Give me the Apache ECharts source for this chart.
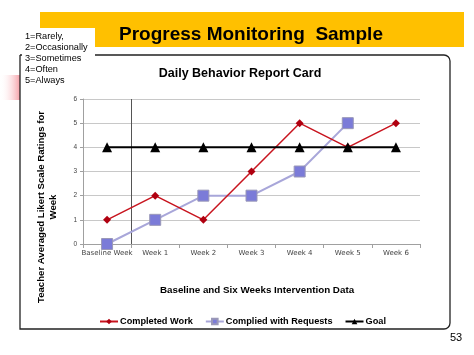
<!DOCTYPE html>
<html><head><meta charset="utf-8">
<script src="https://cdn.jsdelivr.net/npm/echarts@6/dist/echarts.min.js"></script>
<style>html,body{margin:0;padding:0;background:#fff}#c{width:474px;height:355px}</style>
</head><body><div id="c"></div>
<script>
const categories = ['Baseline Week','Week 1','Week 2','Week 3','Week 4','Week 5','Week 6'];
const completedWork = [1,2,1,3,5,4,5];
const compliedRequests = [0,1,2,2,3,5,null];
const goal = [4,4,4,4,4,4,4];
const yTicks = {min:0, max:6, interval:1};
const scaleKey = ['1=Rarely,','2=Occasionally','3=Sometimes','4=Often','5=Always'];
const phaseAfterIndex = 0;

const chart = echarts.init(document.getElementById('c'), null, {renderer:'canvas'});
const F = '"Liberation Sans", Arial, sans-serif';
const option = {
  animation:false,
  backgroundColor:'#fff',
  title:{text:'Daily Behavior Report Card', left:235, top:62, textAlign:'center', textStyle:{fontFamily:F, fontWeight:'bold', fontSize:12.5, color:'#000'}},
  grid:{left:83, right:54, top:99, bottom:111},
  xAxis:{
    type:'category', data:categories, boundaryGap:true,
    axisLine:{lineStyle:{color:'#A0A0A0'}},
    axisTick:{show:true, lineStyle:{color:'#A0A0A0'}, length:4},
    axisLabel:{fontSize:7, color:'#444', fontFamily:'"DejaVu Sans", sans-serif', margin:6, interval:0}
  },
  yAxis:{
    type:'value', min:yTicks.min, max:yTicks.max, interval:yTicks.interval,
    axisLine:{show:true, lineStyle:{color:'#A0A0A0'}},
    axisTick:{show:true, length:3, lineStyle:{color:'#A0A0A0'}},
    axisLabel:{fontSize:6.5, color:'#444', margin:6},
    splitLine:{lineStyle:{color:'#C8C8C8', width:1}}
  },
  legend:{
    top:312, left:94, itemGap:12, itemWidth:18, itemHeight:7,
    textStyle:{fontFamily:F, fontWeight:'bold', fontSize:9.2, color:'#000', padding:[0,0,0,-3]},
    data:['Completed Work','Complied with Requests','Goal']
  },
  series:[
    {name:'Complied with Requests', type:'line', data:compliedRequests, symbol:'rect', symbolSize:11, z:3,
      lineStyle:{color:'#A8A6D9', width:2}, itemStyle:{color:'#7B7BD8', borderColor:'#9A98B8', borderWidth:1}},
    {name:'Completed Work', type:'line', data:completedWork, symbol:'diamond', symbolSize:8, z:4,
      lineStyle:{color:'#C8141E', width:1.5}, itemStyle:{color:'#B00010'}},
    {name:'Goal', type:'line', data:goal, symbol:'triangle', symbolSize:10, z:5,
      lineStyle:{color:'#000', width:2}, itemStyle:{color:'#000'}}
  ]
};
chart.setOption(option);

// phase-change line between baseline and intervention, from the axis scale
const xa = chart.convertToPixel({xAxisIndex:0}, phaseAfterIndex);
const xb = chart.convertToPixel({xAxisIndex:0}, phaseAfterIndex + 1);
const yTop = chart.convertToPixel({yAxisIndex:0}, yTicks.max);
const yBot = chart.convertToPixel({yAxisIndex:0}, yTicks.min);
const xm = Math.round((xa + xb) / 2) + 0.5;

chart.setOption({
  graphic:[
    {type:'rect', shape:{x:0,y:75,width:20,height:25}, style:{fill:{type:'linear',x:1,y:0,x2:0,y2:0,colorStops:[{offset:0,color:'#F5A0A8'},{offset:1,color:'rgba(255,255,255,0)'}]}}, z:-2},
    {type:'rect', shape:{x:40,y:12,width:424,height:35}, style:{fill:'#FFC000'}, z:-1},
    {type:'text', x:251, y:35, style:{text:'Progress Monitoring  Sample', font:'bold 19px '+F, fill:'#000', align:'center', verticalAlign:'middle'}},
    {type:'rect', shape:{x:20,y:55,width:430,height:274,r:[0,6,6,0]}, style:{fill:'none',stroke:'#222',lineWidth:1.3}, z:-1},
    {type:'rect', shape:{x:22,y:28,width:73,height:60}, style:{fill:'#fff'}, z:1},
    {type:'text', x:25, y:31, z:2, style:{text:scaleKey.join('\n'), font:'9.2px '+F, lineHeight:11, fill:'#000', align:'left', verticalAlign:'top'}},
    {type:'text', x:47, y:207, rotation:Math.PI/2, style:{text:'Teacher Averaged Likert Scale Ratings for\nWeek', font:'bold 9.6px '+F, lineHeight:12, fill:'#000', align:'center', verticalAlign:'middle'}},
    {type:'text', x:257, y:290, style:{text:'Baseline and Six Weeks Intervention Data', font:'bold 9.8px '+F, fill:'#000', align:'center', verticalAlign:'middle'}},
    {type:'text', x:456, y:338, style:{text:'53', font:'11px '+F, fill:'#000', align:'center', verticalAlign:'middle'}},
    {type:'line', shape:{x1:xm, y1:yTop, x2:xm, y2:yBot}, style:{stroke:'#555', lineWidth:1}, z:1}
  ]
});
</script></body></html>
